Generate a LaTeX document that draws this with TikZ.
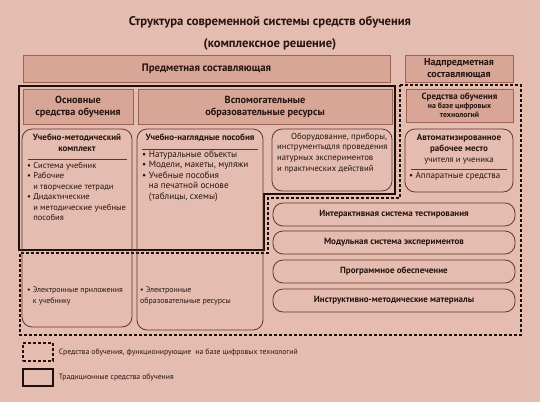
\documentclass[tikz,border=0pt]{standalone}
\usepackage{fontspec}
\setmainfont{PT Sans}
\usetikzlibrary{positioning}
\definecolor{BgPink}{RGB}{228,189,176}
\definecolor{HeadPink}{RGB}{216,166,151}
\definecolor{HeadLine}{RGB}{158,98,84}
\definecolor{DarkBrown}{RGB}{100,52,42}
\definecolor{InkText}{RGB}{38,20,16}
\tikzset{
  hdr/.style={draw=HeadLine,fill=HeadPink,line width=0.9pt,inner sep=1pt,align=center,
    font=\bfseries\fontsize{10.3}{12}\selectfont},
  rbox/.style={draw=DarkBrown,rounded corners=10pt,line width=0.8pt,inner sep=0pt},
  pill/.style={draw=DarkBrown,rounded corners=10pt,line width=0.8pt,minimum width=242pt,
    minimum height=23pt,font=\bfseries\fontsize{9}{10}\selectfont},
  boxttl/.style={align=center,inner sep=0pt,font=\bfseries\fontsize{9}{11}\selectfont},
  bul/.style={align=left,inner sep=0pt,anchor=north west,font=\fontsize{8.5}{10.5}\selectfont},
  sepline/.style={draw=DarkBrown,line width=0.5pt},
  tradline/.style={draw=black!70!DarkBrown,line width=1.6pt},
  digline/.style={draw=black!70!DarkBrown,line width=1.3pt,dash pattern=on 3pt off 2pt},
}
\tikzset{legtxt/.style={anchor=west,inner sep=0pt,font=\fontsize{7.7}{9}\selectfont}}

\begin{document}
\begin{tikzpicture}[x=1pt,y=-1pt,text=InkText]
\useasboundingbox (0,0) rectangle (540,402);
\fill[BgPink] (0,0) rectangle (540,402);
% title
\node[font=\bfseries\fontsize{12.6}{14}\selectfont] (title) at (270,22) {Структура современной системы средств обучения};
\node[font=\bfseries\fontsize{12.6}{14}\selectfont] (subtitle) at (270,44) {(комплексное решение)};
% top headers
\node[hdr,minimum width=367pt,minimum height=27pt,font=\bfseries\fontsize{10.8}{12}\selectfont] (predm) at (206.5,68.5) {Предметная составляющая};
\node[hdr,minimum width=108pt,minimum height=27pt,font=\bfseries\fontsize{10}{11.5}\selectfont] (nadpredm) at (459,68.5) {Надпредметная\\составляющая};
% frames
\draw[tradline] (19,86) -- (395,86) -- (395,194) -- (264,194) -- (264,250) -- (19,250) -- cycle;
\draw[digline] (400,85) -- (521,85) -- (521,335) -- (20,335) -- (20,253) -- (268,253) -- (268,198) -- (400,198) -- cycle;
% second row headers
\node[hdr,minimum width=110pt,minimum height=35pt] (osn) at (78,106.5) {Основные\\средства обучения};
\node[hdr,minimum width=254pt,minimum height=35pt] (vspom) at (265,106.5) {Вспомогательные\\образовательные ресурсы};
\node[hdr,minimum width=107pt,minimum height=33pt,font=\bfseries\fontsize{7.8}{9}\selectfont] (cifr) at (459.5,105.5)
  {{\fontsize{9}{10}\selectfont Средства обучения}\\на базе цифровых\\технологий};
% rounded boxes
\node[rbox,minimum width=110pt,minimum height=198pt] (umk) at (77,228) {};
\node[rbox,minimum width=126pt,minimum height=201pt] (unp) at (200,229.5) {};
\node[rbox,minimum width=120pt,minimum height=62pt] (obor) at (332,160) {};
\node[rbox,minimum width=108pt,minimum height=63pt] (arm) at (459,160.5) {};
% box texts
\node[boxttl,below=5pt of umk.north] (umkTtl) {Учебно-методический\\комплект};
\draw[sepline] (28,159) -- (127,159);
\node[bul] (umkList) at (27,162) {• Система учебник\\• Рабочие\\\hphantom{• }и творческие тетради\\• Дидактические\\\hphantom{• }и методические учебные\\\hphantom{• }пособия};
\node[boxttl,below=5pt of unp.north] (unpTtl) {Учебно-наглядные пособия};
\draw[sepline] (142,149) -- (258,149);
\node[bul,font=\fontsize{9.2}{10.5}\selectfont] (unpList) at (142,150.5) {• Натуральные объекты\\• Модели, макеты, муляжи\\• Учебные пособия\\\hphantom{• }на печатной основе\\\hphantom{• }(таблицы, схемы)};
\node[bul,font=\fontsize{8.7}{10.7}\selectfont] (oborTxt) at (277,132.5) {\hspace*{14pt}Оборудование, приборы,\\инструментыдля проведения\\натурных экспериментов\\и практических действий};
\node[boxttl,below=5pt of arm.north] (armTtl) {Автоматизированное\\рабочее место\\{\mdseries\fontsize{8.7}{10}\selectfont учителя и ученика}};
\draw[sepline] (411,169) -- (507,169);
\node[bul,font=\fontsize{9}{10.5}\selectfont] (armList) at (409,171.5) {• Аппаратные средства};
% digital part of the boxes
\node[bul,font=\fontsize{7.9}{10.5}\selectfont] (umkDig) at (27,287) {• Электронные приложения\\\hphantom{• }к учебнику};
\node[bul,font=\fontsize{7.9}{10.5}\selectfont] (unpDig) at (140,287) {• Электронные\\образовательные ресурсы};
% right column
\node[pill] (test) at (394,214.5) {Интерактивная система тестирования};
\node[pill] (modul) at (394,242.5) {Модульная система экспериментов};
\node[pill] (progr) at (394,271.5) {Программное обеспечение};
\node[pill] (instr) at (394,300.5) {Инструктивно-методические материалы};
% legend
\node[draw=black!70!DarkBrown,line width=1.2pt,dash pattern=on 3pt off 2pt,minimum width=30pt,minimum height=18pt,inner sep=0pt] (legDig) at (38,352) {};
\node[legtxt,right=5pt of legDig] (legDigTxt) {Средства обучения, функционирующие \ на базе цифровых технологий};
\node[draw=black!70!DarkBrown,line width=1.4pt,minimum width=30pt,minimum height=17pt,inner sep=0pt] (legTrad) at (38,377.5) {};
\node[legtxt,right=5pt of legTrad] (legTradTxt) {Традиционные средства обучения};
\end{tikzpicture}
\end{document}
